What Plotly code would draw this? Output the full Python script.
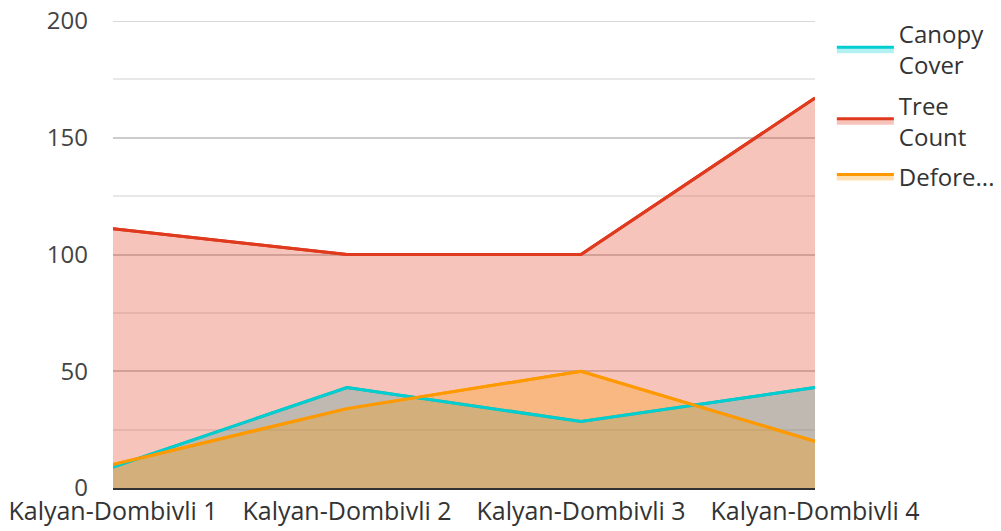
import plotly.graph_objects as go

categories = ["Kalyan-Dombivli 1", "Kalyan-Dombivli 2", "Kalyan-Dombivli 3", "Kalyan-Dombivli 4"]
canopy_cover = [9, 43, 28.5, 43]
tree_count = [111, 100, 100, 167]
deforestation = [10, 34, 50, 20]

series = [
    ("Canopy<br>Cover", canopy_cover, "#00CED1", "rgba(0,206,209,0.3)"),
    ("Tree<br>Count", tree_count, "#E03A1E", "rgba(224,58,30,0.3)"),
    ("Defore...", deforestation, "#FF9900", "rgba(255,153,0,0.3)"),
]

fig = go.Figure()
# filled areas (with legend entries)
for i, (name, vals, col, fcol) in enumerate(series):
    fig.add_trace(go.Scatter(
        x=categories, y=vals, name=name, mode="lines", legendgroup=f"g{i}",
        line=dict(color=col, width=3), fill="tozeroy", fillcolor=fcol,
        hoverinfo="skip",
    ))
# lines drawn on top of all fills
for i, (name, vals, col, fcol) in enumerate(series):
    fig.add_trace(go.Scatter(
        x=categories, y=vals, name=name, mode="lines", legendgroup=f"g{i}",
        line=dict(color=col, width=3), showlegend=False,
    ))

# top gridline at 200 (plotly drops gridlines at the plot edge)
fig.add_shape(type="line", xref="paper", yref="y", x0=0, x1=1, y0=200, y1=200,
              line=dict(color="#cccccc", width=1.5), layer="below")

fig.update_layout(
    width=1001, height=531,
    margin=dict(l=105, r=194, t=13, b=51, autoexpand=False),
    paper_bgcolor="white", plot_bgcolor="white",
    font=dict(family="Open Sans", size=24, color="#444"),
    showlegend=True,
    legend=dict(x=1.024, y=1.02, xanchor="left", yanchor="top",
                font=dict(size=24, color="#333"), tracegroupgap=6,
                itemwidth=57),
    xaxis=dict(type="category", range=[0, 3], showgrid=False, automargin=False,
               showline=True, linecolor="#333", linewidth=2,
               ticks="", tickfont=dict(size=25, color="#333")),
    yaxis=dict(range=[0, 200], tickvals=[0, 50, 100, 150, 200], automargin=False,
               showgrid=True, gridcolor="#cccccc", gridwidth=1.5,
               zeroline=False, ticks="", ticklabelstandoff=24,
               ticklabeloverflow="allow",
               minor=dict(tickvals=[25, 75, 125, 175], showgrid=True,
                          gridcolor="#e8e8e8", gridwidth=1.5),
               tickfont=dict(size=24, color="#444")),
)

fig.write_html("out.html")
